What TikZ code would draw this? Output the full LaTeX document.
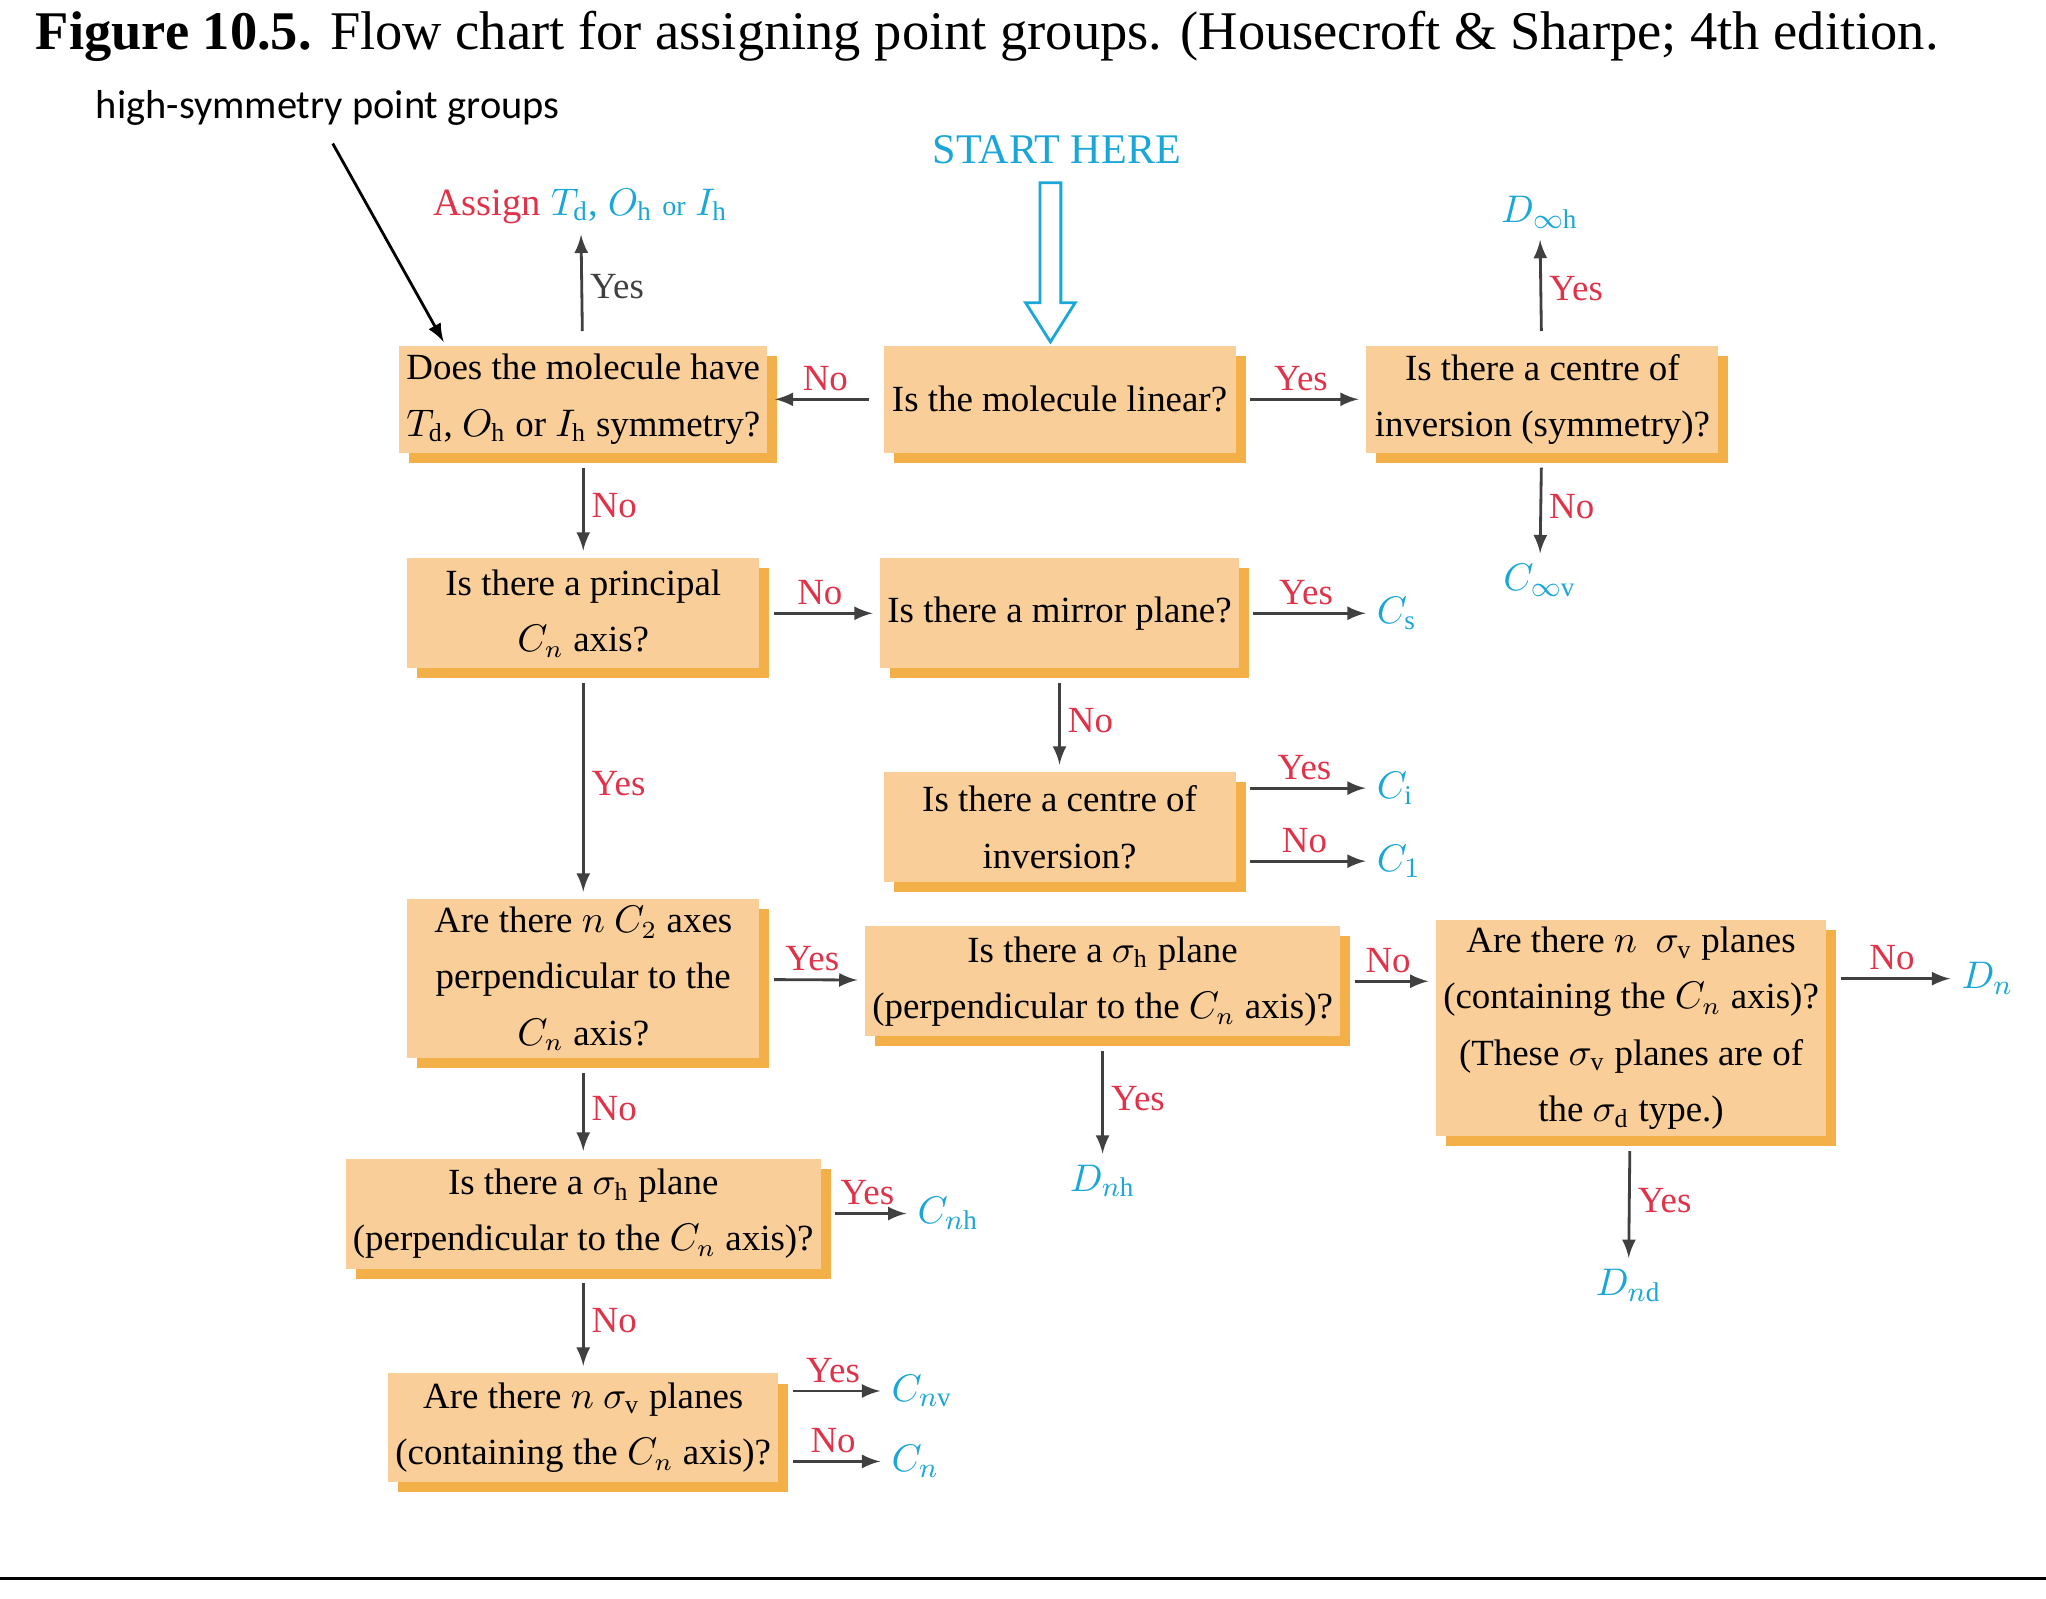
\documentclass[tikz,border=0pt]{standalone}
\usepackage{fontspec}
\setmainfont{Liberation Serif}
\newfontfamily\annfont{Carlito}
\usetikzlibrary{shadows}
\definecolor{boxfill}{HTML}{F9CE98}
\definecolor{boxdark}{HTML}{F3AF48}
\definecolor{lblred}{HTML}{E0334A}
\definecolor{rescyan}{HTML}{1AA7D8}
\definecolor{arrgray}{HTML}{404040}
\tikzset{
  box/.style={fill=boxfill, draw=none, align=center, inner sep=2pt,
    font=\fontsize{10.5}{16}\selectfont,
    general shadow={fill=boxdark, shadow xshift=0.1cm, shadow yshift=-0.1cm}},
  res/.style={text=rescyan, font=\fontsize{11}{13}\selectfont, inner sep=1pt},
  lbl/.style={text=lblred, font=\fontsize{10.5}{13}\selectfont, inner sep=2pt},
  arr/.style={->, >=latex, thick, draw=arrgray, shorten <=4pt, shorten >=2pt}
}
\begin{document}
\begin{tikzpicture}[x=0.01305cm, y=-0.01305cm]
  \useasboundingbox (0,0) rectangle (1568,1225);

  % title and note
  \node[anchor=west, font=\fontsize{15.5}{18}\selectfont] (title) at (18,28)
    {\textbf{Figure 10.5.} Flow chart for assigning point groups. (Housecroft \& Sharpe; 4th edition.};
  \node[anchor=west, font=\annfont\fontsize{11.5}{13}\selectfont] (note) at (64,83) {high-symmetry point groups};
  \coordinate (notetip) at (340,262);
  \draw[->, >=latex, thick] (255,110) -- (notetip);

  % start marker
  \node[text=rescyan, font=\fontsize{12}{14}\selectfont] (start) at (810,115) {START HERE};
  \draw[rescyan, thick, fill=white] (797,140) -- (813,140) -- (813,232) -- (824,232) -- (805,262)
    -- (786,232) -- (797,232) -- cycle;

  % boxes
  \node[box, minimum width=3.52cm, minimum height=1.07cm] (high) at (447,306)
    {Does the molecule have\\ $T_\mathrm{d}$, $O_\mathrm{h}$ or $I_\mathrm{h}$ symmetry?};
  \node[box, minimum width=3.52cm, minimum height=1.07cm] (lin) at (812,306) {Is the molecule linear?};
  \node[box, minimum width=3.52cm, minimum height=1.07cm] (inv) at (1182,306)
    {Is there a centre of\\ inversion (symmetry)?};
  \node[box, minimum width=3.52cm, minimum height=1.1cm] (princ) at (447,470)
    {Is there a principal\\ $C_n$ axis?};
  \node[box, minimum width=3.52cm, minimum height=1.1cm] (mirror) at (812,470) {Is there a mirror plane?};
  \node[box, minimum width=3.52cm, minimum height=1.1cm] (cinv) at (812,634)
    {Is there a centre of\\ inversion?};
  \node[box, minimum width=3.52cm, minimum height=1.5cm] (ctwo) at (447,750)
    {Are there $n$ $C_2$ axes\\ perpendicular to the\\ $C_n$ axis?};
  \node[box, minimum width=4.37cm, minimum height=1.1cm] (sigh) at (845,752)
    {Is there a $\sigma_\mathrm{h}$ plane\\ (perpendicular to the $C_n$ axis)?};
  \node[box, minimum width=3.59cm, minimum height=2.05cm] (sigv) at (1250,788)
    {Are there $n$ \ $\sigma_\mathrm{v}$ planes\\ (containing the $C_n$ axis)?\\
     (These $\sigma_\mathrm{v}$ planes are of\\ the $\sigma_\mathrm{d}$ type.)};
  \node[box, minimum width=4.1cm, minimum height=1.1cm] (sightwo) at (447,930)
    {Is there a $\sigma_\mathrm{h}$ plane\\ (perpendicular to the $C_n$ axis)?};
  \node[box, minimum width=3.52cm, minimum height=1.08cm] (sigvtwo) at (447,1094)
    {Are there $n$ $\sigma_\mathrm{v}$ planes\\ (containing the $C_n$ axis)?};

  % results
  \node[res] (assign) at (445,158) {\textcolor{lblred}{Assign} $T_\mathrm{d}$, $O_\mathrm{h}$ {\footnotesize or} $I_\mathrm{h}$};
  \node[res] (dinfh) at (1180,163) {$D_{\infty\mathrm{h}}$};
  \node[res] (cinfv) at (1180,445) {$C_{\infty\mathrm{v}}$};
  \node[res, anchor=west] (cs) at (1052,470) {$C_\mathrm{s}$};
  \node[res, anchor=west] (ci) at (1052,604) {$C_\mathrm{i}$};
  \node[res, anchor=west] (cone) at (1052,660) {$C_1$};
  \node[res, anchor=west] (dn) at (1500,750) {$D_n$};
  \node[res] (dnh) at (845,905) {$D_{n\mathrm{h}}$};
  \node[res] (dnd) at (1248,985) {$D_{n\mathrm{d}}$};
  \node[res, anchor=west] (cnh) at (700,930) {$C_{n\mathrm{h}}$};
  \node[res, anchor=west] (cnv) at (680,1066) {$C_{n\mathrm{v}}$};
  \node[res, anchor=west] (cn) at (680,1120) {$C_n$};

  % connectors
  \draw[arr] (high) -- (assign) node[lbl, midway, right] {\textcolor{arrgray}{Yes}};
  \draw[arr] (lin) -- (high) node[lbl, midway, above] {No};
  \draw[arr] (lin) -- (inv) node[lbl, midway, above] {Yes};
  \draw[arr] (inv) -- (dinfh) node[lbl, midway, right] {Yes};
  \draw[arr] (inv) -- (cinfv) node[lbl, midway, right] {No};
  \draw[arr] (high) -- (princ) node[lbl, midway, right] {No};
  \draw[arr] (princ) -- (mirror) node[lbl, midway, above] {No};
  \draw[arr] (mirror) -- (cs) node[lbl, midway, above] {Yes};
  \draw[arr] (mirror) -- (cinv) node[lbl, midway, right] {No};
  \draw[arr] (cinv.east |- ci) -- (ci) node[lbl, midway, above] {Yes};
  \draw[arr] (cinv.east |- cone) -- (cone) node[lbl, midway, above] {No};
  \draw[arr] (princ) -- (ctwo) node[lbl, midway, right] {Yes};
  \draw[arr] (ctwo) -- (sigh) node[lbl, midway, above] {Yes};
  \draw[arr] (sigh) -- (sigv.west |- sigh) node[lbl, midway, above] {No};
  \draw[arr] (sigv.east |- dn) -- (dn) node[lbl, midway, above] {No};
  \draw[arr] (sigh) -- (dnh) node[lbl, midway, right] {Yes};
  \draw[arr] (sigv) -- (dnd) node[lbl, midway, right] {Yes};
  \draw[arr] (ctwo) -- (sightwo) node[lbl, midway, right] {No};
  \draw[arr] (sightwo) -- (cnh) node[lbl, midway, above] {Yes};
  \draw[arr] (sightwo) -- (sigvtwo) node[lbl, midway, right] {No};
  \draw[arr] (sigvtwo.east |- cnv) -- (cnv) node[lbl, midway, above] {Yes};
  \draw[arr] (sigvtwo.east |- cn) -- (cn) node[lbl, midway, above] {No};

  % rule at the foot
  \draw[thick] (0,1210) -- (1568,1210);
\end{tikzpicture}
\end{document}
